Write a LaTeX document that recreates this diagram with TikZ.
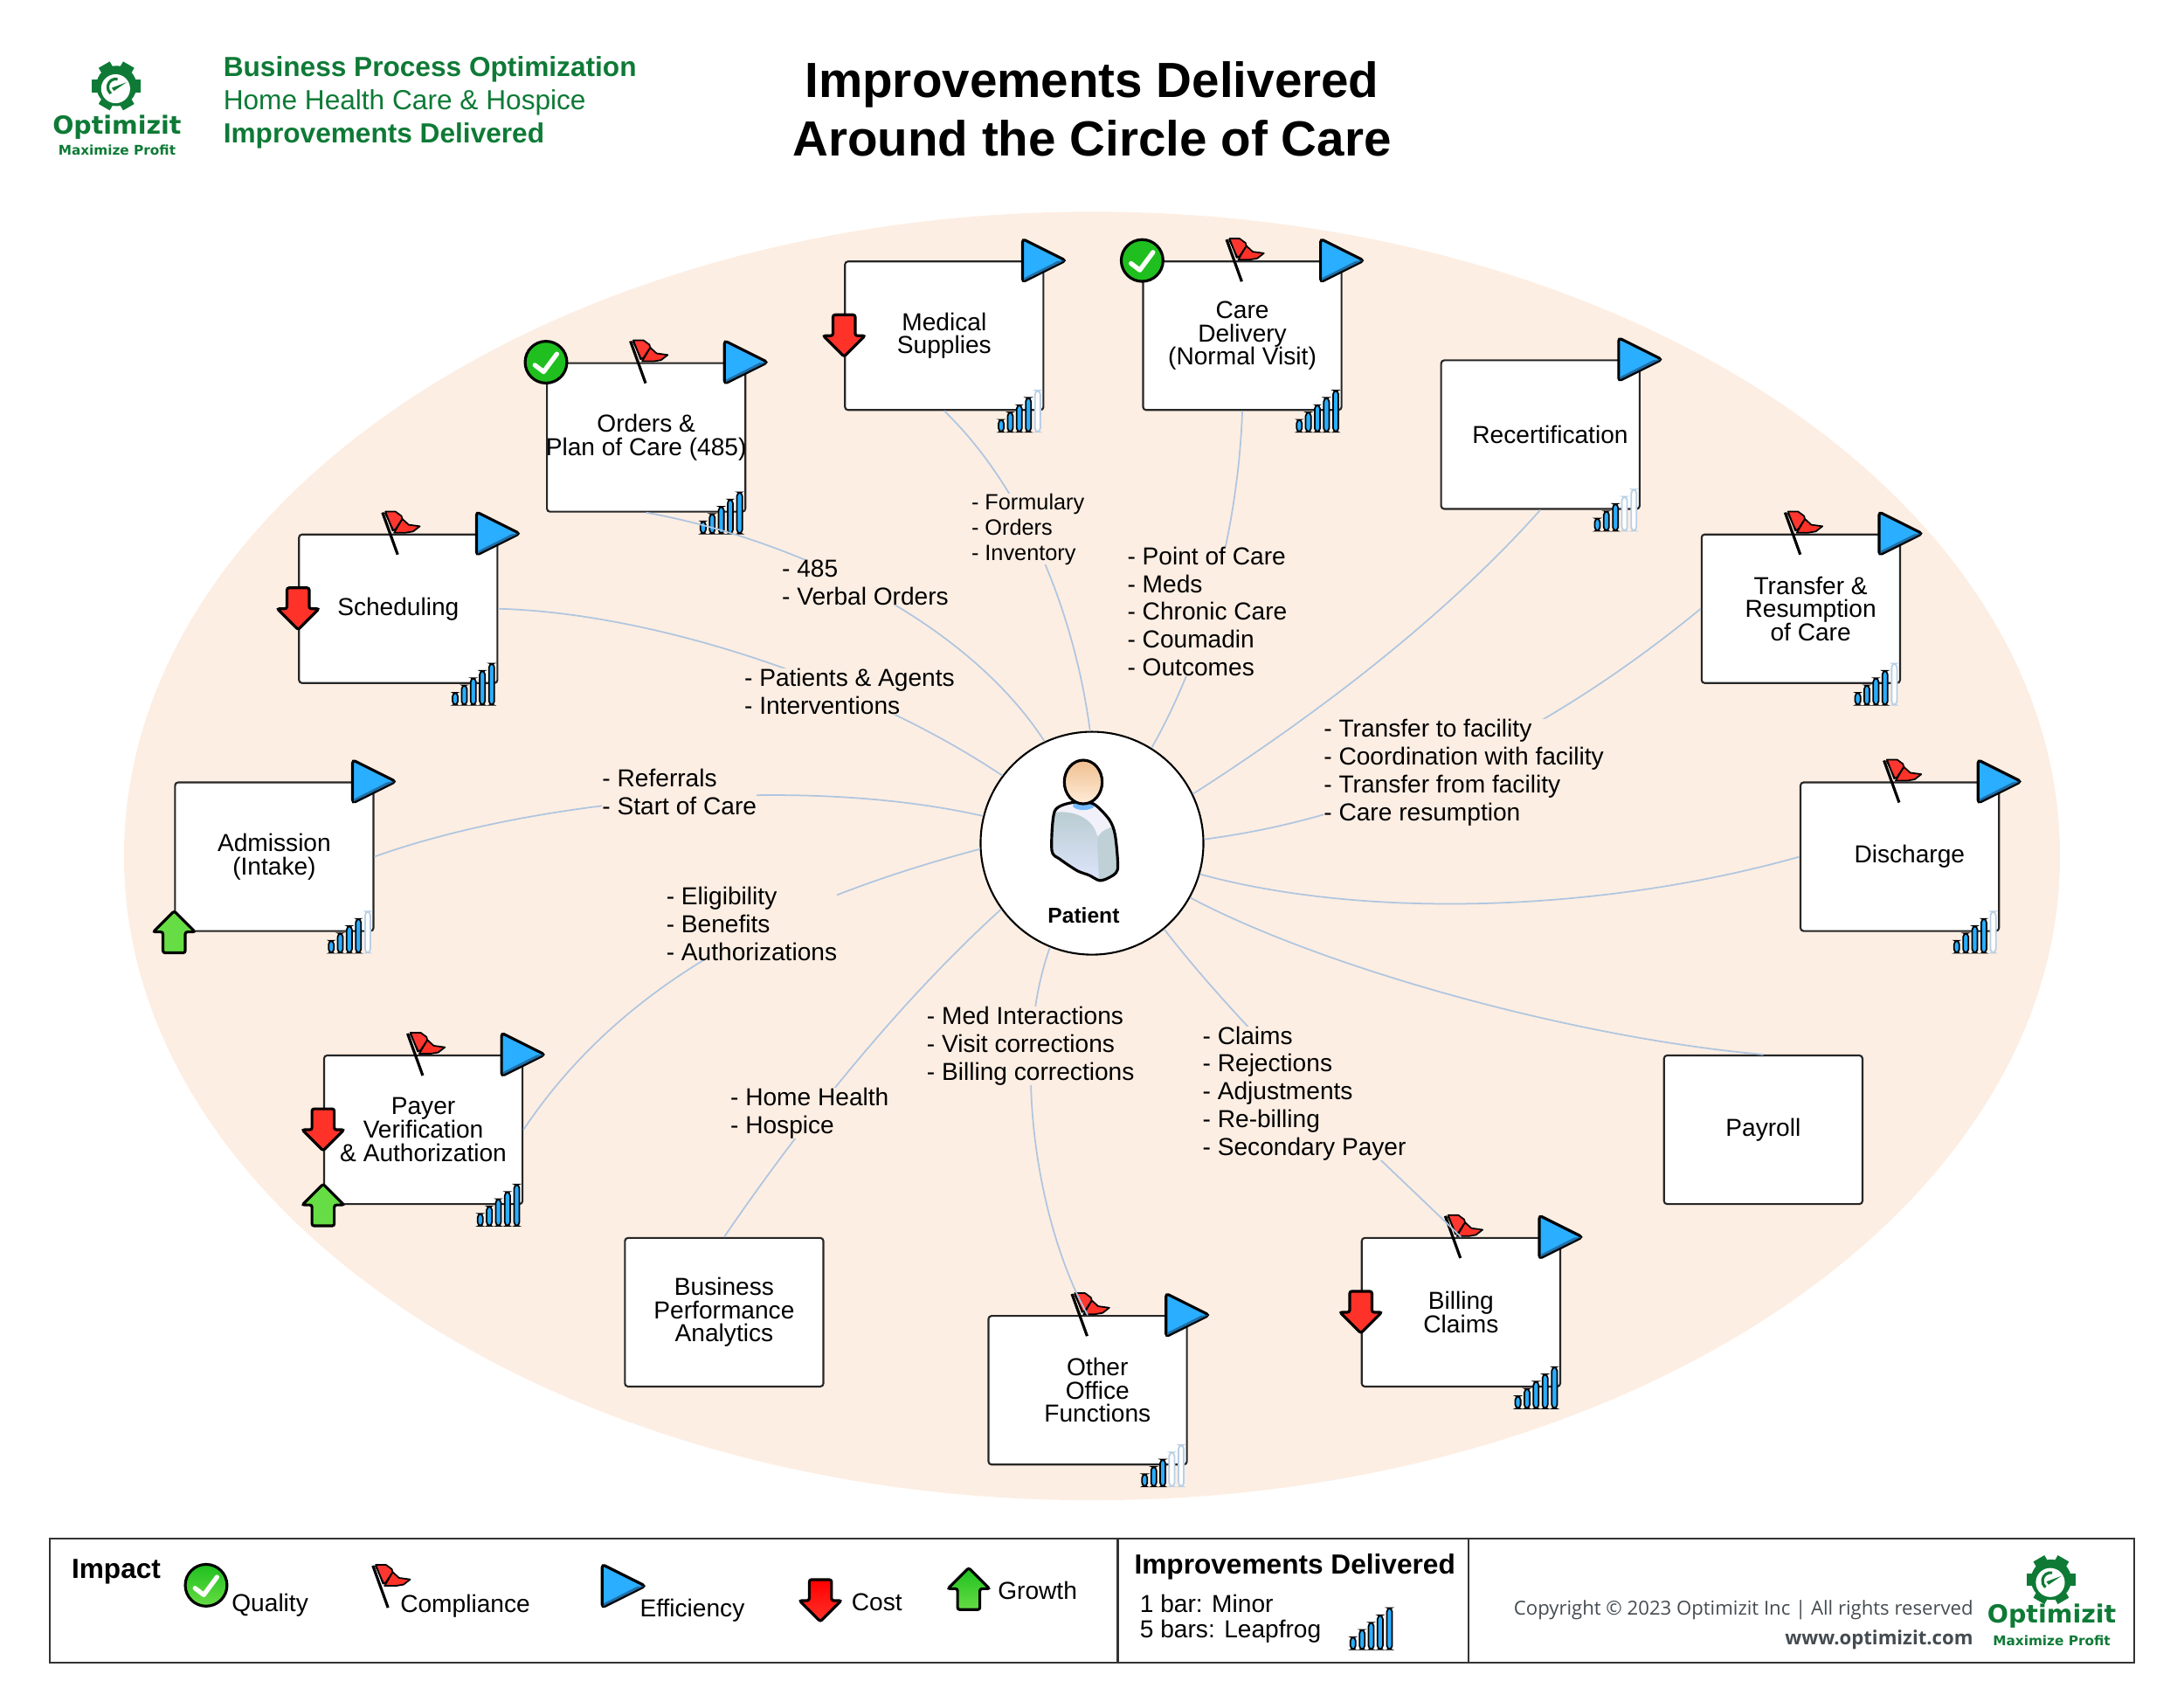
\documentclass[tikz,border=0pt]{standalone}
\usepackage{fontspec}
\setmainfont{Liberation Sans}
\newfontfamily\logofont{DejaVu Sans}
\newfontfamily\copyfont{Open Sans}

\definecolor{peach}{HTML}{FDEEE3}
\definecolor{optgreen}{HTML}{0E7A36}
\definecolor{linkblue}{HTML}{AFC6E0}
\definecolor{barblue}{HTML}{2AAEFF}
\definecolor{darkblue}{HTML}{1F6FA8}
\definecolor{barpale}{HTML}{B9CFE4}
\definecolor{costred}{HTML}{FF3229}
\definecolor{growgreen}{HTML}{66DD44}
\definecolor{checkgreen}{HTML}{1FBF1F}
\definecolor{copygray}{HTML}{444B50}

\newcommand{\patientbody}{plot[smooth cycle,tension=0.45] coordinates {(385,265) (322,295) (312,430) (340,460) (400,500) (440,515) (475,533) (505,525) (538,495) (530,380) (510,325) (455,270)}}

\tikzset{
    procbox/.style={draw=black!85,fill=white,line width=0.6pt,rounded corners=1pt,anchor=north west,minimum width=2.272cm,minimum height=1.701cm,inner sep=0pt,align=center,font=\fontsize{8}{7.6}\selectfont},
    proctext/.style={inner sep=0pt,align=center,font=\fontsize{8}{7.6}\selectfont},
    note/.style={fill=peach,inner sep=0pt,anchor=west,align=left,font=\fontsize{8}{9.07}\selectfont},
    smallnote/.style={note,font=\fontsize{7.2}{8.2}\selectfont},
    link/.style={draw=linkblue,line width=0.5pt},
    legendtext/.style={inner sep=0pt,anchor=west,align=left,font=\fontsize{8}{9.07}\selectfont},
    legendhead/.style={inner sep=0pt,anchor=west,font=\fontsize{9}{10}\selectfont\bfseries},
    baron/.style={draw=black,fill=barblue,line width=0.5pt,rounded corners=1.2pt},
    baroff/.style={draw=barpale,fill=white,line width=0.5pt,rounded corners=1.2pt},
    costfill/.style={fill=costred},
    growfill/.style={fill=growgreen},
    checkfill/.style={fill=checkgreen},
    pics/bars/.style 2 args={code={
        \draw[baron] (-32.9,15) rectangle (-29.1,6.3);
        \draw[baron] (-26.4,15) rectangle (-22.6,1);
        \draw[baron] (-19.9,15) rectangle (-16.1,-4.2);
        \draw[#1] (-13.4,15) rectangle (-9.6,-9.4);
        \draw[#2] (-6.7,15) rectangle (-2.9,-14.6);
    }},
    pics/check/.style={code={
        \draw[checkfill,draw=black,line width=0.9pt] (0,0) circle[radius=15];
        \draw[white,line width=1.5pt,line cap=round,line join=round] (-8,2.1) -- (-1.7,6.9) -- (7.8,-5.9);
    }},
    pics/flag/.style={code={
        \draw[fill=costred,line width=0.5pt,line join=round] (2.9,-10.5) -- (7.5,-6.3) -- (15.5,-5.2) -- (10.7,-1.5) -- (5.4,-0.6) -- (-2.9,-0.6) -- cycle;
        \draw[fill=red!35!costred!90!white,line width=0.5pt,line join=round] (-9.2,-15.7) -- (-1.9,-15.7) -- (2.3,-12.6) -- (2.9,-10.5) -- (-1.9,-3.1) -- (-4,-2.1) -- cycle;
        \draw[line width=0.4pt] (-9.6,-15) -- (-3.3,-2.1);
        \draw[line width=0.9pt] (-11.3,-15.1) -- (-0.4,15.1);
    }},
    pics/play/.style={code={
        \draw[fill=barblue,line width=0.9pt,rounded corners=1pt] (-15.7,-15.5) -- (15.3,0) -- (-15.7,15.5) -- cycle;
        \fill[darkblue] (14.5,0) -- (9.5,0.4) -- (-14.5,12.5) -- (-14.8,14.4) -- cycle;
    }},
    pics/costarrow/.style={code={
        \draw[costfill,line width=0.9pt,rounded corners=0.7pt] (-8,-15) -- (8,-15) -- (8,0) -- (15,0) -- (0,15) -- (-15,0) -- (-8,0) -- cycle;
    }},
    pics/growarrow/.style={code={
        \draw[growfill,line width=0.9pt,rounded corners=0.7pt] (0,-15) -- (15,0) -- (8,0) -- (8,15) -- (-8,15) -- (-8,0) -- (-15,0) -- cycle;
    }},
    pics/gear/.style={code={
        \fill[optgreen] (0,0) circle[radius=14.5];
        \fill[optgreen] (-17.6,-4.6) rectangle (17.6,4.6);
        \fill[optgreen,rotate=60] (-17.6,-4.6) rectangle (17.6,4.6);
        \fill[optgreen,rotate=120] (-17.6,-4.6) rectangle (17.6,4.6);
        \fill[white] (-0.6,2) circle[radius=10.4];
        \draw[optgreen,line width=0.9pt] (0.8,-5) arc[start angle=-80,end angle=-230,radius=6];
        \fill[optgreen] (-3.4,1.4) -- (7.2,-2.6) -- (-1.8,3.6) -- cycle;
    }},
}

\begin{document}
\begin{tikzpicture}[x=0.015944cm,y=-0.015944cm]
    \useasboundingbox (0,0) rectangle (1568,1211.7);

    % Header
    \pic at (83.6,61.7) {gear};
    \node[text=optgreen,font=\logofont\fontsize{8.1}{9}\selectfont\bfseries,inner sep=0pt] (logoname) at (84,91.6) {Optimizit};
    \node[text=optgreen,font=\logofont\fontsize{4.35}{5}\selectfont\bfseries,inner sep=0pt] (logotag) at (84,107.7) {Maximize Profit};
    \node[text=optgreen,inner sep=0pt,anchor=west,align=left,font=\fontsize{9}{10.8}\selectfont] (header) at (160,73.5) {\textbf{Business Process Optimization}\\Home Health Care \& Hospice\\\textbf{Improvements Delivered}};
    \node[inner sep=0pt,align=center,font=\fontsize{16.1}{19.1}\selectfont\bfseries] (title) at (784,78) {Improvements Delivered\\Around the Circle of Care};

    % Ellipse
    \fill[peach] (784,614.5) ellipse[x radius=695,y radius=462.5];

    % Boxes
    \node[procbox] (medical) at (606,187) {Medical\\Supplies};
    \node[procbox] (care) at (820,187) {Care\\Delivery\\(Normal Visit)};
    \node[procbox] (orders) at (392,260) {};
    \node[proctext] (orderstext) at (orders) {Orders \&\\Plan of Care (485)};
    \node[procbox] (scheduling) at (214,383) {Scheduling};
    \node[procbox] (recert) at (1034,258) {};
    \node[proctext,xshift=3.2pt] (recerttext) at (recert) {Recertification};
    \node[procbox] (transfer) at (1221,383) {};
    \node[proctext,xshift=3.2pt] (transfertext) at (transfer) {Transfer \&\\Resumption\\of Care};
    \node[procbox] (discharge) at (1292,561) {};
    \node[proctext,xshift=3.2pt] (dischargetext) at (discharge) {Discharge};
    \node[procbox] (admission) at (125,561) {Admission\\(Intake)};
    \node[procbox] (payer) at (232,757) {Payer\\Verification\\\& Authorization};
    \node[procbox] (business) at (448,888) {Business\\Performance\\Analytics};
    \node[procbox] (other) at (709,944) {};
    \node[proctext,xshift=3.2pt] (othertext) at (other) {Other\\Office\\Functions};
    \node[procbox] (billing) at (977,888) {Billing\\Claims};
    \node[procbox] (payroll) at (1194,757) {Payroll};

    % Icons
    \pic at (orders.north west) {check};
    \pic at (orders.north) {flag};
    \pic at (orders.north east) {play};
    \pic at (orders.south east) {bars={baron}{baron}};

    \pic at (medical.west) {costarrow};
    \pic at (medical.north east) {play};
    \pic at (medical.south east) {bars={baron}{baroff}};

    \pic at (care.north west) {check};
    \pic at (care.north) {flag};
    \pic at (care.north east) {play};
    \pic at (care.south east) {bars={baron}{baron}};

    \pic at (recert.north east) {play};
    \pic at (recert.south east) {bars={baroff}{baroff}};

    \pic at (transfer.north) {flag};
    \pic at (transfer.north east) {play};
    \pic at (transfer.south east) {bars={baron}{baroff}};

    \pic at (discharge.north) {flag};
    \pic at (discharge.north east) {play};
    \pic at (discharge.south east) {bars={baron}{baroff}};

    \pic at (billing.west) {costarrow};
    \pic at (billing.north) {flag};
    \pic at (billing.north east) {play};
    \pic at (billing.south east) {bars={baron}{baron}};

    \pic at (other.north) {flag};
    \pic at (other.north east) {play};
    \pic at (other.south east) {bars={baroff}{baroff}};

    \pic at (payer.west) {costarrow};
    \pic at (payer.south west) {growarrow};
    \pic at (payer.north) {flag};
    \pic at (payer.north east) {play};
    \pic at (payer.south east) {bars={baron}{baron}};

    \pic at (admission.south west) {growarrow};
    \pic at (admission.north east) {play};
    \pic at (admission.south east) {bars={baron}{baroff}};

    \pic at (scheduling.west) {costarrow};
    \pic at (scheduling.north) {flag};
    \pic at (scheduling.north east) {play};
    \pic at (scheduling.south east) {bars={baron}{baron}};

    % Patient
    \node[circle,draw=black,fill=white,line width=0.6pt,minimum size=2.551cm,inner sep=0pt] (patient) at (784,605.3) {};
    \begin{scope}[shift={(689.9,520.6)},scale=0.20907]
        \begin{scope}
            \clip \patientbody;
            \fill[top color=blue!8!cyan!30!black!30!white,bottom color=cyan!20!blue!12!white] (290,250) rectangle (560,550);
            \fill[cyan!10!blue!5!white] (300,260) -- (385,262) -- (455,262) -- (540,330) -- (540,380) -- (468,380) .. controls (455,320) and (390,290) .. (320,300) -- cycle;
            \fill[blue!20!cyan!35!black!25!white] (468,400) .. controls (470,370) and (490,355) .. (540,345) -- (560,550) -- (475,550) -- cycle;
            \fill[blue!50!cyan!55!white] (385,258) -- (458,258) -- (458,280) .. controls (440,295) and (400,295) .. (385,280) -- cycle;
        \end{scope}
        \draw[line width=0.9pt,line join=round] \patientbody;
        \draw[top color=orange!50!brown!50!white,bottom color=orange!15!white,line width=0.9pt] (420,195) ellipse[x radius=65,y radius=75];
    \end{scope}
    \node[inner sep=0pt,font=\fontsize{7}{8}\selectfont\bfseries] (patientname) at (778,657) {Patient};

    % Connectors
    \draw[link] (orders.south) .. controls (560,385) and (690,440) .. (patient.115);
    \draw[link] (medical.south) .. controls (730,345) and (770,430) .. (patient.91);
    \draw[link] (care.south) .. controls (889,380) and (865,470) .. (patient.58);
    \draw[link] (recert.south) .. controls (1040,440) and (950,510) .. (patient.26);
    \draw[link] (transfer.west) .. controls (1120,520) and (1000,585) .. (patient.2);
    \draw[link] (discharge.west) .. controls (1150,655) and (980,660) .. (patient.-16);
    \draw[link] (payroll.north) .. controls (1130,745) and (950,695) .. (patient.-29);
    \draw[link] (billing.north) .. controls (1000,840) and (900,750) .. (patient.-50);
    \draw[link] (other.north) .. controls (745,880) and (725,760) .. (patient.-112);
    \draw[link] (business.north) .. controls (580,800) and (650,715) .. (patient.-144);
    \draw[link] (payer.east) .. controls (450,700) and (570,645) .. (patient.-177);
    \draw[link] (admission.east) .. controls (380,575) and (570,555) .. (patient.166);
    \draw[link] (scheduling.east) .. controls (470,440) and (620,490) .. (patient.143);

    % Notes
    \node[note] (ordersnote) at (561,418) {- 485\\- Verbal Orders};
    \node[smallnote] (medicalnote) at (697,380) {- Formulary\\- Orders\\- Inventory};
    \node[note] (carenote) at (809,439) {- Point of Care\\- Meds\\- Chronic Care\\- Coumadin\\- Outcomes};
    \node[note] (schedulingnote) at (534,496.5) {- Patients \& Agents\\- Interventions};
    \node[note] (transfernote) at (950,554.5) {- Transfer to facility\\- Coordination with facility\\- Transfer from facility\\- Care resumption};
    \node[note] (admissionnote) at (432,568.5) {- Referrals\\- Start of Care};
    \node[note] (payernote) at (478,663) {- Eligibility\\- Benefits\\- Authorizations};
    \node[note] (othernote) at (665,751) {- Med Interactions\\- Visit corrections\\- Billing corrections};
    \node[note] (billingnote) at (863,785) {- Claims\\- Rejections\\- Adjustments\\- Re-billing\\- Secondary Payer};
    \node[note] (businessnote) at (524,799) {- Home Health\\- Hospice};

    % Legend
    \draw[black!80,line width=0.6pt] (35.7,1104.5) rectangle (1532.5,1193.8);
    \draw[black!80,line width=0.6pt] (802.5,1104.5) -- (802.5,1193.8);
    \draw[black!80,line width=0.6pt] (1054.5,1104.5) -- (1054.5,1193.8);

    \node[legendhead] (impact) at (51,1128) {Impact};
    \pic[checkfill/.style={top color=checkgreen,bottom color=growgreen}] at (148,1138) {check};
    \node[legendtext] (quality) at (166,1152) {Quality};
    \pic at (279,1139) {flag};
    \node[legendtext] (compliance) at (287,1153) {Compliance};
    \pic at (448,1138.5) {play};
    \node[legendtext] (efficiency) at (459,1156) {Efficiency};
    \pic[costfill/.style={top color=red,bottom color=costred}] at (589,1149) {costarrow};
    \node[legendtext] (cost) at (611,1150) {Cost};
    \pic[growfill/.style={top color=checkgreen,bottom color=growgreen}] at (695.5,1140.5) {growarrow};
    \node[legendtext] (growth) at (716,1142) {Growth};

    \node[legendhead] (delivered) at (814,1125) {Improvements Delivered};
    \node[legendtext] (onebar) at (818,1151) {1 bar: Minor};
    \node[legendtext] (fivebars) at (818,1171) {5 bars: Leapfrog};
    \pic at (1002.4,1169) {bars={baron}{baron}};

    \node[inner sep=0pt,anchor=east,text=copygray,font=\copyfont\fontsize{6.3}{7}\selectfont] (copyright) at (1417,1156) {Copyright © 2023 Optimizit Inc | All rights reserved};
    \node[inner sep=0pt,anchor=east,text=copygray,font=\copyfont\fontsize{6.3}{7}\selectfont\bfseries] (website) at (1417,1177) {www.optimizit.com};
    \pic at (1472.6,1134) {gear};
    \node[text=optgreen,font=\logofont\fontsize{8.1}{9}\selectfont\bfseries,inner sep=0pt] (footname) at (1473,1160) {Optimizit};
    \node[text=optgreen,font=\logofont\fontsize{4.35}{5}\selectfont\bfseries,inner sep=0pt] (foottag) at (1473,1178) {Maximize Profit};
\end{tikzpicture}
\end{document}
